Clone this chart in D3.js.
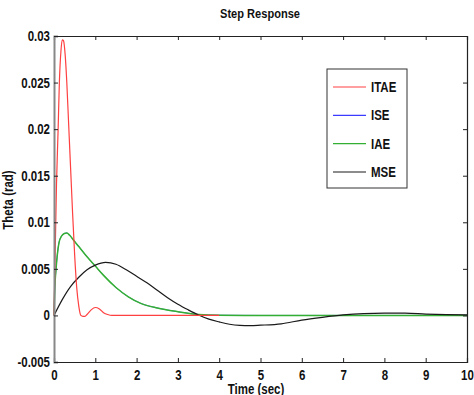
<!DOCTYPE html>
<html>
<head>
<meta charset="utf-8">
<script src="https://cdn.jsdelivr.net/npm/d3@7"></script>
<style>
  body { margin: 0; background: #fff; }
  text { font-family: "Liberation Sans", Arial, sans-serif; font-weight: bold; fill: #111; }
</style>
</head>
<body>
<script>
// step response data
var seriesNames = ["ITAE", "ISE", "IAE", "MSE"];
var seriesColors = ["#ff4040", "#3b3bff", "#33b033", "#1a1a1a"];

var itaeT = [0, 0.03, 0.06, 0.1, 0.13, 0.17, 0.2, 0.23, 0.27, 0.31, 0.35, 0.4, 0.45, 0.5, 0.55, 0.6, 0.65, 0.7, 0.75, 0.8, 0.9, 1.0, 1.1, 1.2, 1.3, 1.4, 2, 3, 4];
var itaeV = [0, 0.007, 0.014, 0.02, 0.025, 0.0285, 0.0296, 0.0295, 0.028, 0.025, 0.021, 0.016, 0.011, 0.0065, 0.003, 0.001, 0.0, -0.0001, -0.0001, 0.0001, 0.0006, 0.00085, 0.0007, 0.0003, 0.0001, 0, 0, 0, 0];

var iaeT = [0, 0.02, 0.05, 0.08, 0.12, 0.18, 0.25, 0.31, 0.38, 0.47, 0.6, 0.8, 1.0, 1.2, 1.5, 1.8, 2.1, 2.5, 3, 3.5, 4, 5, 6, 7, 8, 9, 10];
var iaeV = [0, 0.003, 0.005, 0.0065, 0.0078, 0.0085, 0.0088, 0.00885, 0.0086, 0.0081, 0.0074, 0.0063, 0.0053, 0.0043, 0.003, 0.002, 0.0013, 0.0008, 0.0004, 0.0001, 0.00002, 0, 0, 0, 0, 0, 0];

// ISE lies under the IAE curve in the picture
var iseT = [0, 0.02, 0.05, 0.08, 0.12, 0.18, 0.25, 0.31, 0.38, 0.47, 0.6, 0.8, 1.0, 1.2, 1.5, 1.8, 2.1, 2.5, 3, 3.5, 4, 5, 6, 7, 8, 9, 10];
var iseV = [0, 0.003, 0.005, 0.0065, 0.0078, 0.0085, 0.0088, 0.00885, 0.0086, 0.0081, 0.0074, 0.0063, 0.0053, 0.0043, 0.003, 0.002, 0.0013, 0.0008, 0.0004, 0.0001, 0.00002, 0, 0, 0, 0, 0, 0];

var mseT = [0, 0.2, 0.4, 0.6, 0.8, 1.0, 1.25, 1.5, 1.75, 2.0, 2.25, 2.5, 2.75, 3.0, 3.25, 3.5, 3.75, 4.0, 4.25, 4.5, 4.75, 5.0, 5.5, 6.0, 6.5, 7.0, 7.5, 8.0, 8.5, 9.0, 9.5, 10];
var mseV = [0, 0.0017, 0.0031, 0.0041, 0.0049, 0.0054, 0.0057, 0.0055, 0.0049, 0.0042, 0.0035, 0.0027, 0.0019, 0.0012, 0.0006, 0.00005, -0.0004, -0.0007, -0.00095, -0.00107, -0.0011, -0.00105, -0.0009, -0.0005, -0.0002, 0.00005, 0.0002, 0.00025, 0.00025, 0.00015, 0.00008, 0.00005];

var xTicks = [0, 1, 2, 3, 4, 5, 6, 7, 8, 9, 10];
var yTicks = [-0.005, 0, 0.005, 0.01, 0.015, 0.02, 0.025, 0.03];

var w = 474, h = 395;
var padL = 54, padR = 467, padT = 36, padB = 362;
var squeeze = 0.82; // the picture uses a narrow bold font

var svg = d3.select("body").append("svg")
  .attr("width", w)
  .attr("height", h);

var xScale = d3.scaleLinear().domain([0, 10]).range([padL, padR]);
var yScale = d3.scaleLinear().domain([-0.005, 0.03]).range([padB, padT]);

function zip(ts, vs) {
  return ts.map(function(t, i) { return [t, vs[i]]; });
}
var series = [zip(itaeT, itaeV), zip(iseT, iseV), zip(iaeT, iaeV), zip(mseT, mseV)];

var line = d3.line()
  .x(function(d) { return xScale(d[0]); })
  .y(function(d) { return yScale(d[1]); })
  .curve(d3.curveMonotoneX);

// draw order: ISE, IAE, MSE, then ITAE on top
var order = [1, 2, 3, 0];
svg.selectAll("path.curve")
  .data(order)
  .enter()
  .append("path")
  .attr("class", "curve")
  .attr("d", function(i) { return line(series[i]); })
  .attr("fill", "none")
  .attr("stroke", function(i) { return seriesColors[i]; })
  .attr("stroke-width", function(i) { return i == 1 ? 0.8 : (i == 2 ? 1.5 : 1.2); });

//axes, ticks pointing inward
var fmt = function(d) { return String(+d.toFixed(3)); };
var xAxis = d3.axisBottom(xScale).tickValues(xTicks).tickSize(-4).tickPadding(8).tickFormat(fmt);
var xAxisTop = d3.axisTop(xScale).tickValues(xTicks).tickSize(-4).tickFormat("");
var yAxis = d3.axisLeft(yScale).tickValues(yTicks).tickSize(-4).tickPadding(7).tickFormat(fmt);
var yAxisRight = d3.axisRight(yScale).tickValues(yTicks).tickSize(-4).tickFormat("");

var gx = svg.append("g").attr("transform", "translate(0," + padB + ")").call(xAxis);
svg.append("g").attr("transform", "translate(0," + padT + ")").call(xAxisTop);
var gy = svg.append("g").attr("transform", "translate(" + padL + ",0)").call(yAxis);
svg.append("g").attr("transform", "translate(" + padR + ",0)").call(yAxisRight);

svg.selectAll(".domain").attr("stroke", "#222").attr("stroke-width", 1.2);
svg.selectAll(".tick line").attr("stroke", "#222");
gy.select(".domain").attr("stroke", "#888").attr("stroke-width", 2);

gx.selectAll("text")
  .attr("font-size", "14px")
  .attr("font-family", null)
  .attr("fill", "#111")
  .attr("transform", "scale(" + squeeze + ",1)");
gy.selectAll("text")
  .attr("font-size", "14px")
  .attr("font-family", null)
  .attr("fill", "#111")
  .attr("x", -4 / squeeze)
  .attr("transform", "scale(" + squeeze + ",1)");

//titles
function narrowText(x, y, rot, size, label) {
  return svg.append("text")
    .attr("transform", "translate(" + x + "," + y + ") rotate(" + rot + ") scale(" + squeeze + ",1)")
    .attr("text-anchor", "middle")
    .attr("font-size", size)
    .text(label);
}
narrowText(260, 18, 0, "13.5px", "Step Response");
narrowText(256, 394, 0, "14px", "Time (sec)");
narrowText(13, 200, -90, "14px", "Theta (rad)");

//legend
var lg = svg.append("g");
lg.append("rect")
  .attr("x", 327).attr("y", 69)
  .attr("width", 80).attr("height", 119)
  .attr("fill", "#fff")
  .attr("stroke", "#333");

var rowY = d3.scalePoint().domain(seriesNames).range([87, 172]);

lg.selectAll("line")
  .data(seriesNames)
  .enter()
  .append("line")
  .attr("x1", 333).attr("x2", 366)
  .attr("y1", function(d) { return rowY(d); })
  .attr("y2", function(d) { return rowY(d); })
  .attr("stroke", function(d, i) { return seriesColors[i]; })
  .attr("stroke-width", 1.2);

lg.selectAll("text")
  .data(seriesNames)
  .enter()
  .append("text")
  .attr("transform", function(d) { return "translate(371," + (rowY(d) + 5) + ") scale(" + squeeze + ",1)"; })
  .attr("font-size", "14px")
  .text(function(d) { return d; });
</script>
</body>
</html>
